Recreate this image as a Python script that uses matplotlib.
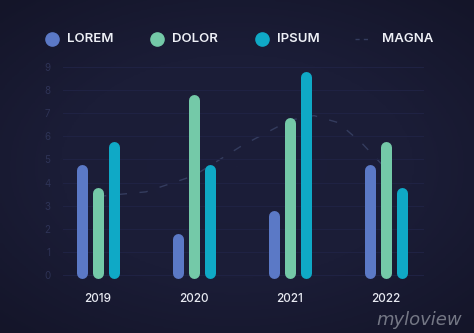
import numpy as np
import matplotlib
matplotlib.use("Agg")
from matplotlib import pyplot as plt
from matplotlib.lines import Line2D

# dane
lata = ["2019", "2020", "2021", "2022"]
lorem = [5, 2, 3, 5]
dolor = [4, 8, 7, 6]
ipsum = [6, 5, 9, 4]
# linia przerywana MAGNA (pozycje miedzy latami)
magna_x = [0, 0.5, 1, 1.5, 2, 2.25, 2.5, 2.75, 3]
magna_y = [3.4, 3.6, 4.3, 5.6, 6.7, 6.9, 6.6, 5.7, 4.6]
y_ticks = list(range(0, 10))

serie = ["LOREM", "DOLOR", "IPSUM"]
kolory = ["#5b79c6", "#74c9a8", "#0fa9c6"]
kolor_magna = "#343c5e"
tlo = "#1a1c34"

W, H = 474, 333
fig = plt.figure(figsize=(W / 100, H / 100), dpi=100)
fig.patch.set_facecolor(tlo)

# tlo z lekka winieta
bg = fig.add_axes([0, 0, 1, 1], zorder=-10)
yy, xx = np.mgrid[-1:1:200j, -1:1:200j]
r = np.sqrt((xx * 0.9) ** 2 + (yy * 1.0) ** 2)
bg.imshow(-r, cmap=matplotlib.colors.LinearSegmentedColormap.from_list(
    "v", ["#141529", "#1b1d37", "#1c1e39"]), aspect="auto",
    extent=[0, 1, 0, 1])
bg.axis("off")

# osie w pikselach: lewa 63, prawa 424, dol 280, gora 60
ax = fig.add_axes([63 / W, (H - 280) / H, (424 - 63) / W, 220 / H])
ax.set_facecolor("none")
px_y = 23.1  # pikseli na jednostke
ax.set_xlim(-35 / 96, 326 / 96)
ax.set_ylim(-5 / px_y, 215 / px_y)

lw_px = 11
lw = lw_px * 72 / 100
cap = (lw_px / 2) / px_y
przes = [-16 / 96, 0, 16 / 96]

for dane, kol, dx in zip([lorem, dolor, ipsum], kolory, przes):
    for i, v in enumerate(dane):
        ax.plot([i + dx, i + dx], [0.08, v - 0.2 - cap], color=kol, lw=lw,
                solid_capstyle="round", zorder=3)

ax.plot(magna_x, magna_y, color=kolor_magna, lw=1.0, dashes=(6, 9), zorder=1)

# siatka
ax.set_yticks(y_ticks)
ax.set_yticklabels([str(t) for t in y_ticks])
ax.grid(axis="y", color="#202344", lw=0.7, zorder=0)
ax.tick_params(axis="y", length=0, pad=9, labelcolor="#2e3356", labelsize=7)
ax.set_xticks(range(len(lata)))
ax.set_xticklabels(lata)
ax.tick_params(axis="x", length=0, pad=9, labelcolor="#e8eaf2", labelsize=8.5)
for s in ax.spines.values():
    s.set_visible(False)
for t in ax.get_xticklabels():
    t.set_fontfamily("Inter")
    t.set_fontweight("medium")
for t in ax.get_yticklabels():
    t.set_fontfamily("Inter")

# legenda recznie
leg_y = (H - 39) / H
marker_x = [52, 157, 262]
for nazwa, kol, mx in zip(serie, kolory, marker_x):
    fig.add_artist(Line2D([mx / W], [leg_y], marker="o", markersize=9.5,
                          color=kol, lw=0, transform=fig.transFigure))
    fig.text((mx + 15) / W, leg_y, nazwa, color="#eef0f6", fontsize=9.5,
             fontfamily="Inter", fontweight="semibold", va="center", ha="left")
fig.add_artist(Line2D([355 / W, 369 / W], [leg_y, leg_y], color=kolor_magna,
                      lw=1.0, dashes=(3, 3), transform=fig.transFigure))
fig.text(382 / W, leg_y, "MAGNA", color="#eef0f6", fontsize=9.5,
         fontfamily="Inter", fontweight="semibold", va="center", ha="left")

# znak wodny
fig.text(462 / W, (H - 320) / H, "myloview", color="#8d909c", fontsize=13,
         style="italic", ha="right", va="center", alpha=0.8)

fig.savefig("out.png", dpi=100, facecolor=fig.get_facecolor())
